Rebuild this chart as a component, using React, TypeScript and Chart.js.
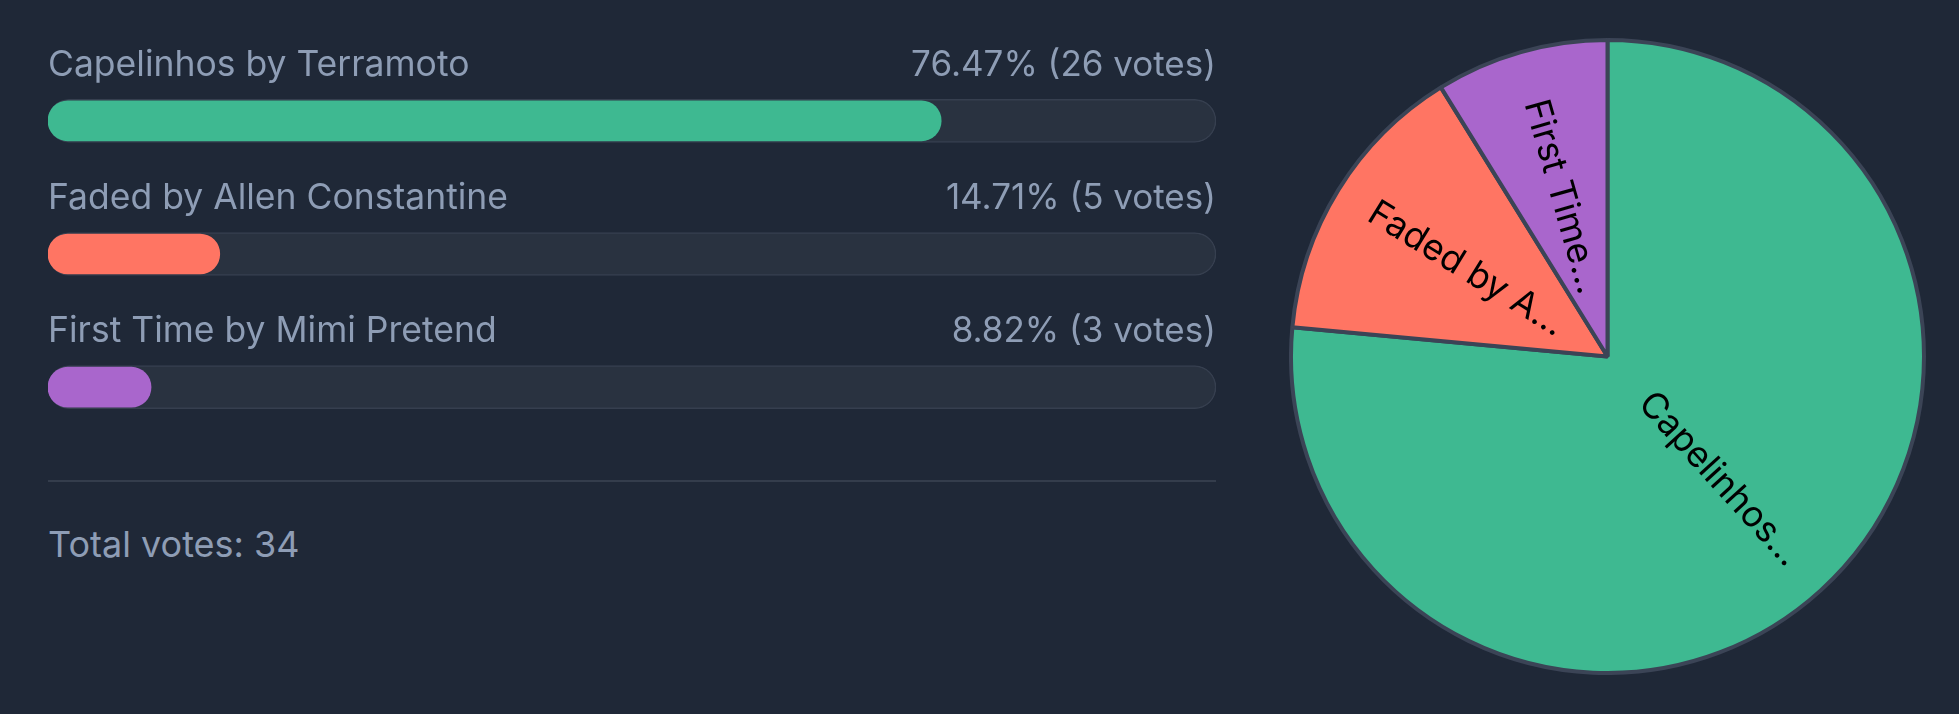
import React, { useEffect, useRef } from "react";
import { Chart, registerables } from "chart.js";

Chart.register(...registerables);

const songs: string[] = [
  "Capelinhos by Terramoto",
  "Faded by Allen Constantine",
  "First Time by Mimi Pretend",
];
const votes: number[] = [26, 5, 3];
const sliceColors: string[] = ["#3eb991", "#ff7563", "#a966cc"];

const BG = "#1f2837";
const TEXT = "#8e9db5";
const TRACK = "#293240";
const TRACK_BORDER = "#363f4f";
const PIE_BORDER = "#3b4456";
const FONT = "Inter, 'Noto Sans', sans-serif";

const total = votes.reduce((a, b) => a + b, 0);
const percents = votes.map((v) => (v / total) * 100);

const barLabelPlugin = {
  id: "barLabels",
  afterDatasetsDraw(chart: any) {
    const meta = chart.getDatasetMeta(1);
    const { ctx, chartArea } = chart;
    ctx.save();
    ctx.fillStyle = TEXT;
    ctx.textBaseline = "alphabetic";
    meta.data.forEach((bar: any, i: number) => {
      const y = bar.y - 21.5 - 23.5;
      ctx.font = `35.5px ${FONT}`;
      ctx.textAlign = "left";
      ctx.fillText(songs[i], chartArea.left, y);
      ctx.font = `35px ${FONT}`;
      ctx.textAlign = "right";
      ctx.fillText(
        `${percents[i].toFixed(2)}% (${votes[i]} votes)`,
        chartArea.right,
        y
      );
    });
    ctx.restore();
  },
};

const pieLabelPlugin = {
  id: "pieLabels",
  afterDatasetsDraw(chart: any) {
    const meta = chart.getDatasetMeta(0);
    const { ctx } = chart;
    ctx.save();
    ctx.font = `36px ${FONT}`;
    ctx.fillStyle = "#000000";
    ctx.textAlign = "center";
    ctx.textBaseline = "middle";
    meta.data.forEach((arc: any, i: number) => {
      const p = arc.getProps(["x", "y", "startAngle", "endAngle", "outerRadius"], true);
      const mid = (p.startAngle + p.endAngle) / 2;
      const r = p.outerRadius * 0.525;
      const px = p.x + Math.cos(mid) * r;
      const py = p.y + Math.sin(mid) * r;
      let rot = mid;
      if (Math.cos(mid) < 0) rot = mid + Math.PI;
      const label = songs[i].length > 10 ? songs[i].slice(0, 10) + "…" : songs[i];
      ctx.save();
      ctx.translate(px, py);
      ctx.rotate(rot);
      ctx.fillText(label, 0, 0);
      ctx.restore();
    });
    ctx.restore();
  },
};

function BarsChart() {
  const ref = useRef<HTMLCanvasElement>(null);
  useEffect(() => {
    const chart = new Chart(ref.current as HTMLCanvasElement, {
      type: "bar",
      data: {
        labels: songs,
        datasets: [
          {
            data: songs.map(() => 100),
            backgroundColor: TRACK,
            borderColor: TRACK_BORDER,
            borderWidth: 1.5,
            borderRadius: 21.5,
            borderSkipped: false,
            barThickness: 43,
            grouped: false,
            order: 2,
          } as any,
          {
            data: percents,
            backgroundColor: sliceColors,
            borderWidth: 0,
            borderRadius: 20,
            borderSkipped: false,
            barThickness: 40,
            grouped: false,
            order: 1,
          } as any,
        ],
      },
      options: {
        indexAxis: "y",
        animation: false,
        responsive: true,
        maintainAspectRatio: false,
        events: [],
        layout: { padding: { left: 48, right: 24, top: 54.2, bottom: 26.2 } },
        plugins: { legend: { display: false }, tooltip: { enabled: false } },
        scales: {
          x: { display: false, min: 0, max: 100 },
          y: { display: false },
        },
      },
      plugins: [barLabelPlugin],
    });
    return () => chart.destroy();
  }, []);
  return (
    <div style={{ position: "absolute", left: 0, top: 0, width: 1240, height: 480 }}>
      <canvas ref={ref} />
    </div>
  );
}

function PieChart() {
  const ref = useRef<HTMLCanvasElement>(null);
  useEffect(() => {
    const chart = new Chart(ref.current as HTMLCanvasElement, {
      type: "pie",
      data: {
        labels: songs,
        datasets: [
          {
            data: votes,
            backgroundColor: sliceColors,
            borderColor: PIE_BORDER,
            borderWidth: 4,
            hoverBorderWidth: 4,
          },
        ],
      },
      options: {
        animation: false,
        responsive: true,
        maintainAspectRatio: false,
        events: [],
        layout: { padding: 0 },
        plugins: { legend: { display: false }, tooltip: { enabled: false } },
      },
      plugins: [pieLabelPlugin],
    });
    return () => chart.destroy();
  }, []);
  return (
    <div style={{ position: "absolute", left: 1289, top: 38, width: 637, height: 637 }}>
      <canvas ref={ref} />
    </div>
  );
}

export default function App() {
  return (
    <div
      style={{
        position: "relative",
        width: 1959,
        height: 714,
        background: BG,
        overflow: "hidden",
        fontFamily: FONT,
      }}
    >
      <style>{`html,body{margin:0;padding:0;background:${BG};}`}</style>
      <BarsChart />
      <div
        style={{
          position: "absolute",
          left: 48,
          top: 480,
          width: 1168,
          height: 2,
          background: "#343d4c",
        }}
      />
      <div
        style={{
          position: "absolute",
          left: 48,
          top: 526,
          fontSize: 36,
          lineHeight: "36px",
          color: TEXT,
          whiteSpace: "nowrap",
        }}
      >
        Total votes: {total}
      </div>
      <PieChart />
    </div>
  );
}
